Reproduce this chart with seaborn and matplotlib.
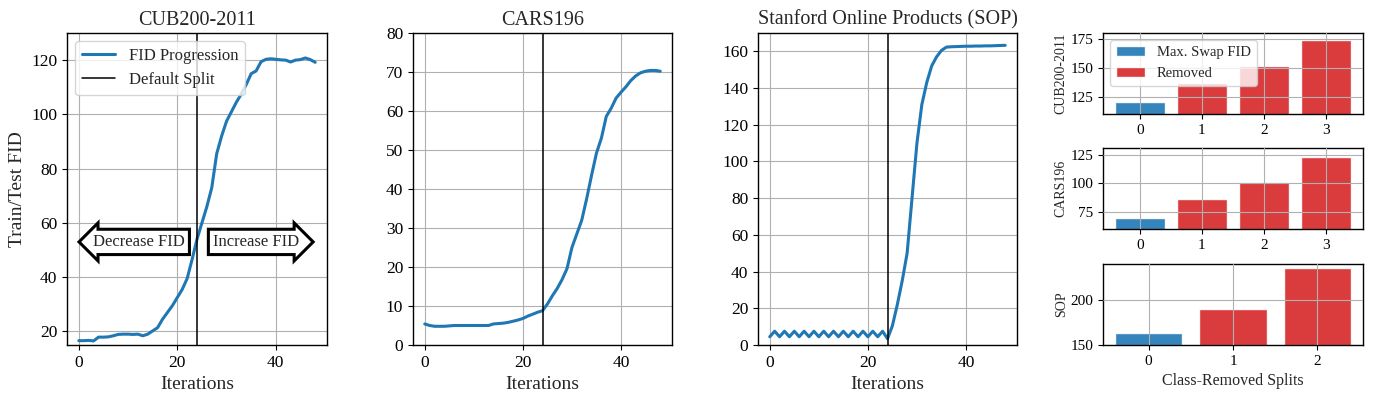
import numpy as np
import pandas as pd
import matplotlib
matplotlib.use("Agg")
import matplotlib.pyplot as plt
import seaborn as sns

# ---------------- data ----------------
iterations = list(range(49))

cub_fid = [16.6, 16.6, 16.7, 16.5, 17.9, 17.9, 18.0, 18.4, 18.9, 19.0,
           19.0, 18.9, 19.0, 18.4, 19.0, 20.2, 21.4, 24.5, 27.0, 29.5,
           32.5, 35.5, 39.5, 46.5, 54.0, 60.0, 66.0, 73.0, 85.5, 92.0,
           97.5, 101.0, 104.5, 107.5, 111.0, 115.0, 116.0, 119.4, 120.3, 120.5,
           120.3, 120.1, 120.0, 119.3, 120.0, 120.2, 120.8, 120.2, 119.2]

cars_fid = [5.4, 5.0, 4.8, 4.8, 4.8, 4.9, 5.0, 5.0, 5.0, 5.0,
            5.0, 5.0, 5.0, 5.0, 5.4, 5.5, 5.6, 5.8, 6.1, 6.4,
            6.8, 7.4, 7.9, 8.4, 8.8, 10.5, 12.6, 14.5, 16.8, 19.6,
            25.0, 28.5, 32.0, 37.5, 43.5, 49.2, 53.0, 58.6, 60.7, 63.3,
            64.8, 66.2, 67.8, 69.0, 69.8, 70.2, 70.4, 70.4, 70.2]

sop_fid = [4.5, 7.5, 4.5, 7.5, 4.5, 7.5, 4.5, 7.5, 4.5, 7.5,
           4.5, 7.5, 4.5, 7.5, 4.5, 7.5, 4.5, 7.5, 4.5, 7.5,
           4.5, 7.5, 4.5, 7.5, 3.4, 10.5, 22.0, 35.0, 50.0, 80.0,
           110.0, 131.0, 143.0, 152.0, 157.0, 160.5, 162.3, 162.5, 162.6, 162.7,
           162.8, 162.8, 162.9, 162.9, 163.0, 163.0, 163.1, 163.2, 163.3]

default_split = 24

line_titles = ["CUB200-2011", "CARS196", "Stanford Online Products (SOP)"]
line_ylims = [(15, 130), (0, 80), (0, 170)]
line_yticks = [[20, 40, 60, 80, 100, 120],
               [0, 10, 20, 30, 40, 50, 60, 70, 80],
               [0, 20, 40, 60, 80, 100, 120, 140, 160]]

bar_names = ["CUB200-2011", "CARS196", "SOP"]
cub_bars = [120.7, 137.0, 151.4, 173.6]
cars_bars = [69.6, 86.4, 100.9, 123.5]
sop_bars = [163.5, 189.6, 235.2]
bar_ylims = [(110, 180), (60, 131), (150, 240)]
bar_yticks = [[125, 150, 175], [75, 100, 125], [150, 200]]
bar_kind = ["Max. Swap FID", "Removed", "Removed", "Removed"]

# ---------------- style ----------------
sns.set_style("ticks", {"axes.grid": True})
plt.rcParams["font.family"] = ["Liberation Serif", "DejaVu Serif"]
plt.rcParams["axes.edgecolor"] = "black"
plt.rcParams["grid.color"] = "#b0b0b0"
plt.rcParams["grid.linewidth"] = 0.8
plt.rcParams["xtick.color"] = "black"
plt.rcParams["ytick.color"] = "black"
plt.rcParams["xtick.major.size"] = 3.5
plt.rcParams["ytick.major.size"] = 3.5

BLUE = "#1f77b4"
RED = "#d62728"

W, H = 1380, 408
fig = plt.figure(figsize=(W / 100, H / 100), dpi=100)


def px_axes(left, right, top, bottom):
    return fig.add_axes([left / W, (H - bottom) / H, (right - left) / W, (bottom - top) / H])


line_axes = [px_axes(67, 327, 33, 345), px_axes(413, 672, 33, 345), px_axes(758, 1017, 33, 345)]

for ax, fid, title, ylim, yt in zip(line_axes, [cub_fid, cars_fid, sop_fid],
                                    line_titles, line_ylims, line_yticks):
    sns.lineplot(x=iterations, y=fid, ax=ax, color=BLUE, linewidth=2.2,
                 label="FID Progression")
    ax.axvline(default_split, color="black", linewidth=1.1, label="Default Split")
    ax.set_yticks(yt)
    ax.set_ylim(*ylim)
    ax.set_xticks([0, 20, 40])
    ax.set_xlabel("Iterations", fontsize=14)
    ax.set_title(title, fontsize=14.5)
    ax.tick_params(labelsize=12.5)
    for s in ax.spines.values():
        s.set_linewidth(1.0)
    if ax is not line_axes[0]:
        ax.get_legend().remove()

ax0 = line_axes[0]
ax0.set_ylabel("Train/Test FID", fontsize=14)
ax0.legend(loc="upper left", fontsize=12, framealpha=0.8)
arrow_box = dict(fc="white", ec="black", lw=2.2)
ax0.text(12.2, 53, "Decrease FID", ha="center", va="center", fontsize=12,
         bbox=dict(boxstyle="larrow,pad=0.28", **arrow_box))
ax0.text(36.0, 53, "Increase FID", ha="center", va="center", fontsize=12,
         bbox=dict(boxstyle="rarrow,pad=0.28", **arrow_box))

# ---------------- bar panels ----------------
bar_axes = [px_axes(1103, 1363, 33, 114), px_axes(1103, 1363, 148, 229), px_axes(1103, 1363, 264, 345)]

for i, (ax, vals, name, ylim, yt) in enumerate(zip(bar_axes, [cub_bars, cars_bars, sop_bars],
                                                   bar_names, bar_ylims, bar_yticks)):
    df = pd.DataFrame({"split": list(range(len(vals))), "fid": vals,
                       "kind": bar_kind[:len(vals)]})
    sns.barplot(data=df, x="split", y="fid", hue="kind", dodge=False, ax=ax,
                palette={"Max. Swap FID": BLUE, "Removed": RED},
                saturation=1, alpha=0.9, width=0.8, legend=(i == 0))
    ax.set_yticks(yt)
    ax.set_ylim(*ylim)
    ax.set_xlim(-0.4 - 0.05 * (len(vals) - 0.2), len(vals) - 0.6 + 0.05 * (len(vals) - 0.2))
    ax.set_ylabel(name, fontsize=10, labelpad=2)
    ax.set_xlabel("")
    ax.tick_params(labelsize=11)
    ax.grid(True)
    ax.set_axisbelow(False)
    for s in ax.spines.values():
        s.set_linewidth(1.0)

bar_axes[0].legend(loc="upper left", fontsize=10.5, framealpha=0.8)
bar_axes[2].set_xlabel("Class-Removed Splits", fontsize=11.5)

fig.savefig("out.png", dpi=100)
